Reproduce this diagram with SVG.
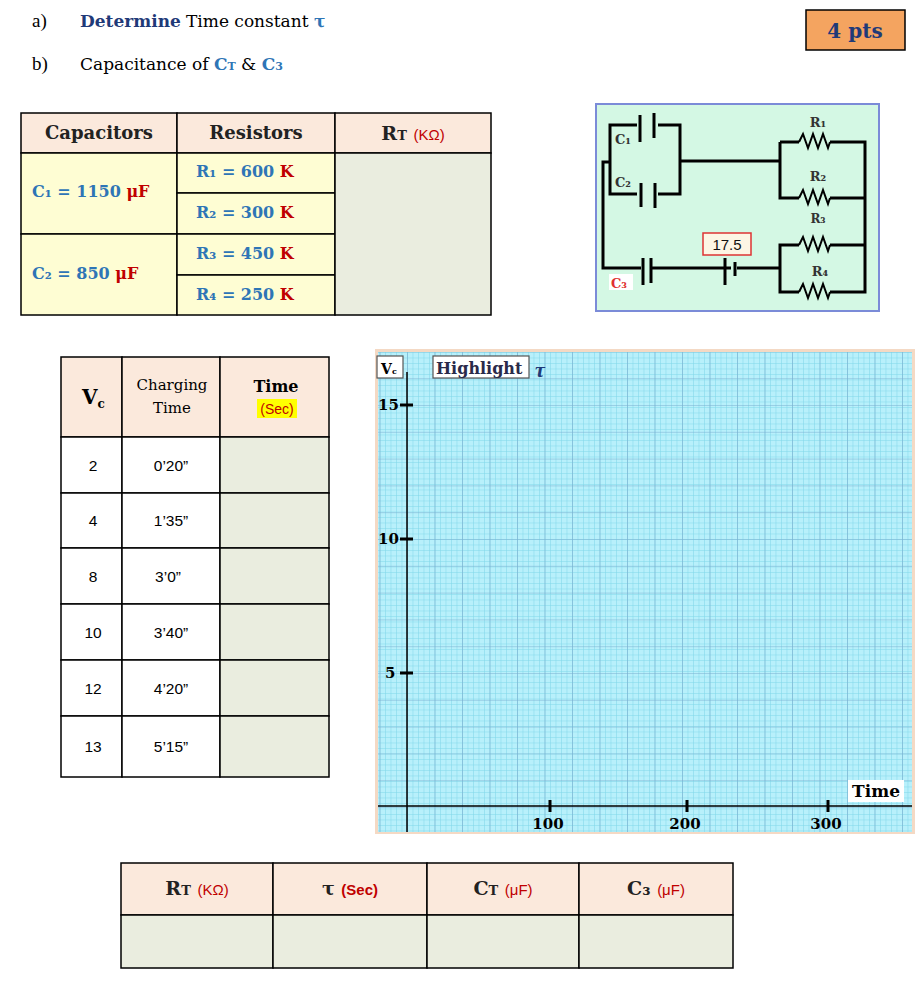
<svg xmlns="http://www.w3.org/2000/svg" width="920" height="1000" viewBox="0 0 920 1000">
<style>
.s{font-family:"Liberation Serif",serif}
.d{font-family:"DejaVu Serif",serif}
.a{font-family:"Liberation Sans",Arial,sans-serif}
.b{font-weight:bold}
.nv{fill:#1f3a78}
.bl{fill:#2e75b6}
.rd{fill:#c00000}
.cell{stroke:#000;stroke-width:1.5}
.hd{fill:#fbe9dc}
.yl{fill:#fefdd3}
.gr{fill:#eaeddf}
.wh{fill:#fff}
.w{fill:none;stroke:#000;stroke-width:3}
</style>
<defs>
<pattern id="fine" width="5.5" height="5.5" patternUnits="userSpaceOnUse">
<rect width="5.5" height="5.5" fill="#b8f0fb"/>
<path d="M0 0H5.5M0 0V5.5" stroke="#7fd6ea" stroke-width="1"/>
</pattern>
<pattern id="major" x="407" y="405" width="27.5" height="26.8" patternUnits="userSpaceOnUse">
<path d="M0 0H27.5M0 0V26.8" stroke="#7aaed0" stroke-width="1.2"/>
</pattern>
</defs>
<rect width="920" height="1000" fill="#fff"/>
<g id="title">
<text x="32" y="27" class="s" font-size="19">a)</text>
<text x="80" y="27" class="d b nv" font-size="17">Determine</text>
<text x="186" y="27" class="d" font-size="17">Time constant <tspan class="b bl">τ</tspan></text>
<text x="32" y="70" class="s" font-size="19">b)</text>
<text x="80" y="70" class="d" font-size="17">Capacitance of <tspan class="b bl">C<tspan font-size="11">T</tspan></tspan> &amp; <tspan class="b bl">C<tspan font-size="11">3</tspan></tspan></text>
</g>
<g id="pts">
<rect x="806" y="10" width="99" height="40" fill="#f4a460" stroke="#000" stroke-width="1.5"/>
<text x="855" y="38" text-anchor="middle" class="d b nv" font-size="20">4  pts</text>
</g>
<g id="table1">
<rect x="21" y="113" width="156" height="40" class="cell hd"/>
<rect x="177" y="113" width="158" height="40" class="cell hd"/>
<rect x="335" y="113" width="156" height="40" class="cell hd"/>
<rect x="21" y="153" width="156" height="81" class="cell yl"/>
<rect x="21" y="234" width="156" height="81" class="cell yl"/>
<rect x="177" y="153" width="158" height="40" class="cell yl"/>
<rect x="177" y="193" width="158" height="41" class="cell yl"/>
<rect x="177" y="234" width="158" height="41" class="cell yl"/>
<rect x="177" y="275" width="158" height="40" class="cell yl"/>
<rect x="335" y="153" width="156" height="162" class="cell gr"/>
<text x="99" y="139" text-anchor="middle" class="d b" font-size="18" fill="#222">Capacitors</text>
<text x="256" y="139" text-anchor="middle" class="d b" font-size="18" fill="#222">Resistors</text>
<text x="413" y="140" text-anchor="middle" class="d b" font-size="19" fill="#222">R<tspan font-size="13">T</tspan> <tspan class="a rd" font-size="15" font-weight="normal">(KΩ)</tspan></text>
<text x="32" y="197" class="d b bl" font-size="16">C₁ = 1150  <tspan class="rd">μF</tspan></text>
<text x="32" y="279" class="d b bl" font-size="16">C₂ = 850  <tspan class="rd">μF</tspan></text>
<text x="196" y="177" class="d b bl" font-size="16">R₁ = 600 <tspan class="rd">K</tspan></text>
<text x="196" y="218" class="d b bl" font-size="16">R₂ = 300 <tspan class="rd">K</tspan></text>
<text x="196" y="259" class="d b bl" font-size="16">R₃ = 450 <tspan class="rd">K</tspan></text>
<text x="196" y="300" class="d b bl" font-size="16">R₄ = 250 <tspan class="rd">K</tspan></text>
</g>
<g id="circuit">
<rect x="596" y="104" width="283" height="207" fill="#d4f8e4" stroke="#7b8bd8" stroke-width="2"/>
<path class="w" d="M637 125H610V194H637M658 125H680V194H658M680 161H780M780 142H799M830 142H865V198H830M780 142V198H799M865 198V245H830M799 245H780V292H799M830 292H865V245M780 268H737M731 268H652M641 268H603V162H610"/>
<path class="w" d="M640 115V142M654 113V138M641 183V207M655 183V208M643 258V285M651 258V283M725 258V285M735 262V276"/>
<path fill="none" stroke="#000" stroke-width="2" d="M799 142l4-8l5 14l5-14l5 14l5-14l5 14l2-6M799 198l4-8l5 14l5-14l5 14l5-14l5 14l2-6M799 245l4-8l5 14l5-14l5 14l5-14l5 14l2-6M799 292l4-8l5 14l5-14l5 14l5-14l5 14l2-6"/>
<text x="615" y="144" class="d b" font-size="13" fill="#333">C₁</text>
<text x="615" y="187" class="d b" font-size="13" fill="#333">C₂</text>
<rect x="609" y="274" width="24" height="16" fill="#fff"/>
<text x="611" y="288" class="d b" font-size="13" fill="#e03030">C₃</text>
<text x="818" y="127" text-anchor="middle" class="d b" font-size="13" fill="#333">R₁</text>
<text x="818" y="181" text-anchor="middle" class="d b" font-size="13" fill="#333">R₂</text>
<text x="818" y="223" text-anchor="middle" class="d b" font-size="12" fill="#333">R₃</text>
<text x="820" y="276" text-anchor="middle" class="d b" font-size="13" fill="#333">R₄</text>
<rect x="703" y="233" width="48" height="22" fill="#fdf5e4" stroke="#d33" stroke-width="1.5"/>
<text x="727" y="250" text-anchor="middle" class="a" font-size="15" fill="#111">17.5</text>
</g>
<g id="table2">
<rect x="61" y="357" width="61" height="80" class="cell hd"/>
<rect x="122" y="357" width="98" height="80" class="cell hd"/>
<rect x="220" y="357" width="109" height="80" class="cell hd"/>
<text x="82" y="404" class="d b" font-size="20">V<tspan font-size="12" dy="4">c</tspan></text>
<text x="172" y="390" text-anchor="middle" class="d" font-size="15">Charging</text>
<text x="172" y="413" text-anchor="middle" class="d" font-size="15">Time</text>
<text x="276" y="392" text-anchor="middle" class="d b" font-size="16">Time</text>
<rect x="257" y="399" width="40" height="19" fill="#ffff00"/>
<text x="277" y="414" text-anchor="middle" class="a rd" font-size="14">(Sec)</text>
<g class="a" font-size="15.5" text-anchor="middle">
<rect x="61" y="437" width="61" height="56" class="cell wh"/><rect x="122" y="437" width="98" height="56" class="cell wh"/><rect x="220" y="437" width="109" height="56" class="cell gr"/>
<text x="93" y="471">2</text><text x="171" y="471">0’20”</text>
<rect x="61" y="493" width="61" height="55" class="cell wh"/><rect x="122" y="493" width="98" height="55" class="cell wh"/><rect x="220" y="493" width="109" height="55" class="cell gr"/>
<text x="93" y="526">4</text><text x="171" y="526">1’35”</text>
<rect x="61" y="548" width="61" height="56" class="cell wh"/><rect x="122" y="548" width="98" height="56" class="cell wh"/><rect x="220" y="548" width="109" height="56" class="cell gr"/>
<text x="93" y="582">8</text><text x="168" y="582">3’0”</text>
<rect x="61" y="604" width="61" height="56" class="cell wh"/><rect x="122" y="604" width="98" height="56" class="cell wh"/><rect x="220" y="604" width="109" height="56" class="cell gr"/>
<text x="93" y="638">10</text><text x="171" y="638">3’40”</text>
<rect x="61" y="660" width="61" height="56" class="cell wh"/><rect x="122" y="660" width="98" height="56" class="cell wh"/><rect x="220" y="660" width="109" height="56" class="cell gr"/>
<text x="93" y="694">12</text><text x="171" y="694">4’20”</text>
<rect x="61" y="716" width="61" height="61" class="cell wh"/><rect x="122" y="716" width="98" height="61" class="cell wh"/><rect x="220" y="716" width="109" height="61" class="cell gr"/>
<text x="93" y="752">13</text><text x="171" y="752">5’15”</text>
</g>
</g>
<g id="graph">
<rect x="375" y="349" width="540" height="485" fill="#f4d9c4"/>
<rect x="378" y="352" width="534" height="480" fill="url(#fine)"/>
<rect x="378" y="352" width="534" height="480" fill="url(#major)"/>
<path d="M407 372V832M378 806H912" stroke="#000" stroke-width="1.5"/>
<path d="M400 405H413M400 539H413M400 673H413M550 800V812M687 800V812M828 800V812" stroke="#000" stroke-width="3"/>
<rect x="377" y="356" width="26" height="22" fill="#fff" stroke="#555" stroke-width="1.2"/>
<text x="381" y="374" class="d b" font-size="14">V<tspan font-size="8">c</tspan></text>
<rect x="433" y="356" width="96" height="22" fill="#fff" stroke="#555" stroke-width="1.2"/>
<text x="436" y="374" class="d b" font-size="16" fill="#2a2a4a">Highlight</text>
<text x="535" y="377" class="s b" font-style="italic" font-size="22" fill="#1f3a78">τ</text>
<g class="d b" font-size="15">
<text x="378" y="410">15</text><text x="378" y="544">10</text><text x="385" y="678">5</text>
<text x="548" y="829" text-anchor="middle">100</text><text x="685" y="829" text-anchor="middle">200</text><text x="826" y="829" text-anchor="middle">300</text>
</g>
<rect x="848" y="780" width="56" height="22" fill="#fff"/>
<text x="876" y="797" text-anchor="middle" class="d b" font-size="17">Time</text>
</g>
<g id="table3">
<rect x="121" y="863" width="152" height="52" class="cell hd"/><rect x="273" y="863" width="154" height="52" class="cell hd"/><rect x="427" y="863" width="152" height="52" class="cell hd"/><rect x="579" y="863" width="154" height="52" class="cell hd"/>
<rect x="121" y="915" width="152" height="53" class="cell gr"/><rect x="273" y="915" width="154" height="53" class="cell gr"/><rect x="427" y="915" width="152" height="53" class="cell gr"/><rect x="579" y="915" width="154" height="53" class="cell gr"/>
<text x="197" y="895" text-anchor="middle" class="d b" font-size="19" fill="#222">R<tspan font-size="13">T</tspan> <tspan class="a rd" font-size="15" font-weight="normal">(KΩ)</tspan></text>
<text x="350" y="895" text-anchor="middle" class="d b" font-size="19" fill="#222">τ <tspan class="a rd" font-size="15">(Sec)</tspan></text>
<text x="503" y="895" text-anchor="middle" class="d b" font-size="19" fill="#222">C<tspan font-size="13">T</tspan> <tspan class="a rd" font-size="15" font-weight="normal">(μF)</tspan></text>
<text x="656" y="895" text-anchor="middle" class="d b" font-size="19" fill="#222">C₃ <tspan class="a rd" font-size="15" font-weight="normal">(μF)</tspan></text>
</g>
</svg>
